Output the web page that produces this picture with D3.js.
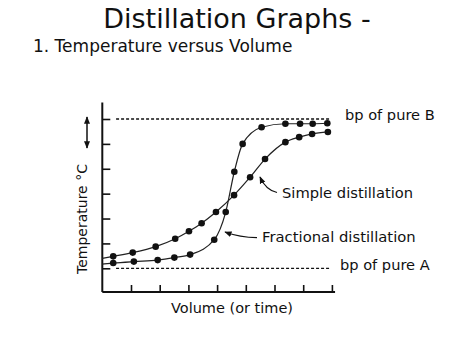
<!DOCTYPE html>
<html>
<head>
<meta charset="utf-8">
<script src="https://cdn.jsdelivr.net/npm/d3@7"></script>
<style>
  html, body { margin: 0; padding: 0; background: #fff; }
  svg { display: block; }
  text { font-family: "DejaVu Sans", sans-serif; fill: #111; }
</style>
</head>
<body>
<script>
// ---- data ----
const title = "Distillation Graphs -";
const subtitle = "1. Temperature versus Volume";
const xLabel = "Volume (or time)";
const yLabel = "Temperature °C";

const xTicks = [1, 2, 3, 4, 5, 6, 7, 8];
const yTicks = [0, 1, 2, 3, 4, 5, 6];

const bpA = 0;   // bp of pure A
const bpB = 6;   // bp of pure B

const simpleVolume = [0.38, 1.06, 1.86, 2.54, 3.02, 3.46, 3.96, 4.59, 5.15, 5.67, 6.38, 6.86, 7.31, 7.86];
const simpleTemp   = [0.48, 0.63, 0.87, 1.19, 1.49, 1.81, 2.26, 2.94, 3.66, 4.39, 5.07, 5.27, 5.40, 5.48];
const simpleStart  = 0.40; // curve value at volume 0

const fracVolume = [0.38, 1.10, 1.93, 2.51, 3.06, 3.90, 4.30, 4.60, 4.89, 5.55, 6.38, 6.89, 7.33, 7.84];
const fracTemp   = [0.21, 0.27, 0.33, 0.43, 0.55, 1.15, 2.26, 3.88, 5.00, 5.67, 5.81, 5.81, 5.81, 5.83];
const fracStart  = 0.17;

const labelBpB = "bp of pure B";
const labelBpA = "bp of pure A";
const labelSimple = "Simple distillation";
const labelFrac = "Fractional distillation";

// ---- layout ----
const W = 474, H = 355;
const svg = d3.select("body").append("svg").attr("width", W).attr("height", H);

const x = d3.scaleLinear().domain([0, 8]).range([102.3, 331.9]);
const y = d3.scaleLinear().domain([0, 6]).range([268.3, 119]);
const xMax = 8.11, yMin = y.invert(292), yMax = y.invert(102.5);

// titles
svg.append("text").attr("x", 237).attr("y", 28).attr("text-anchor", "middle")
  .style("font-size", "27px").text(title);
svg.append("text").attr("x", 33).attr("y", 52)
  .style("font-size", "17px").text(subtitle);

// dashed bp lines
[bpB, bpA].forEach(v => {
  svg.append("line").attr("x1", x(0.48)).attr("x2", x(7.93))
    .attr("y1", y(v)).attr("y2", y(v))
    .attr("stroke", "#111").attr("stroke-width", 1.3).attr("stroke-dasharray", "3,2");
});

// axes
const gx = svg.append("g").attr("transform", `translate(0,${y(yMin)})`)
  .call(d3.axisTop(x).tickValues(xTicks).tickSize(7).tickFormat(""));
const gy = svg.append("g").attr("transform", `translate(${x(0)},0)`)
  .call(d3.axisRight(y).tickValues(yTicks).tickSize(8).tickFormat(""));
[gx, gy].forEach(g => {
  g.select(".domain").remove();
  g.selectAll(".tick line").attr("stroke", "#111").attr("stroke-width", 1.6);
});
svg.append("line").attr("x1", x(0)).attr("x2", x(xMax)).attr("y1", y(yMin)).attr("y2", y(yMin))
  .attr("stroke", "#111").attr("stroke-width", 2);
svg.append("line").attr("x1", x(0)).attr("x2", x(0)).attr("y1", y(yMin)).attr("y2", y(yMax))
  .attr("stroke", "#111").attr("stroke-width", 2);

// curves
const line = d3.line().x(d => x(d[0])).y(d => y(d[1])).curve(d3.curveMonotoneX);
const series = [
  { vol: simpleVolume, temp: simpleTemp, start: simpleStart },
  { vol: fracVolume, temp: fracTemp, start: fracStart }
];
series.forEach(s => {
  const pts = [[0, s.start]].concat(s.vol.map((v, i) => [v, s.temp[i]]));
  svg.append("path").attr("d", line(pts)).attr("fill", "none")
    .attr("stroke", "#222").attr("stroke-width", 1.2);
  svg.selectAll(null).data(s.vol.map((v, i) => [v, s.temp[i]])).enter()
    .append("circle").attr("cx", d => x(d[0])).attr("cy", d => y(d[1]))
    .attr("r", 3.3).attr("fill", "#111");
});

// axis labels
svg.append("text").attr("x", 232).attr("y", 313).attr("text-anchor", "middle")
  .style("font-size", "14.5px").text(xLabel);
svg.append("text").attr("transform", "translate(87,219) rotate(-90)").attr("text-anchor", "middle")
  .style("font-size", "14px").text(yLabel);

// double arrow next to y label
const defs = svg.append("defs");
defs.append("marker").attr("id", "ah").attr("viewBox", "0 0 10 10").attr("refX", 9).attr("refY", 5)
  .attr("markerWidth", 5).attr("markerHeight", 5).attr("orient", "auto-start-reverse")
  .append("path").attr("d", "M0,1 L10,5 L0,9 Z").attr("fill", "#111");
svg.append("line").attr("x1", 87).attr("x2", 87).attr("y1", 148).attr("y2", 117)
  .attr("stroke", "#111").attr("stroke-width", 1.5)
  .attr("marker-end", "url(#ah)").attr("marker-start", "url(#ah)");

// right labels
svg.append("text").attr("x", 345).attr("y", 120).style("font-size", "14.6px").text(labelBpB);
svg.append("text").attr("x", 340).attr("y", 270).style("font-size", "14.6px").text(labelBpA);
svg.append("text").attr("x", 282).attr("y", 198).style("font-size", "14.7px").text(labelSimple);
svg.append("text").attr("x", 262).attr("y", 242).style("font-size", "14.8px").text(labelFrac);

// annotation arrows
defs.append("marker").attr("id", "ah2").attr("viewBox", "0 0 10 10").attr("refX", 9).attr("refY", 5)
  .attr("markerWidth", 6).attr("markerHeight", 6).attr("orient", "auto")
  .append("path").attr("d", "M0,1 L10,5 L0,9 Z").attr("fill", "#111");
svg.append("path").attr("d", "M277,192.5 C270,191 264,186 260,177")
  .attr("fill", "none").attr("stroke", "#111").attr("stroke-width", 1.2).attr("marker-end", "url(#ah2)");
svg.append("path").attr("d", "M257,237.7 C245,237.5 236,236 225,232")
  .attr("fill", "none").attr("stroke", "#111").attr("stroke-width", 1.2).attr("marker-end", "url(#ah2)");
</script>
</body>
</html>
